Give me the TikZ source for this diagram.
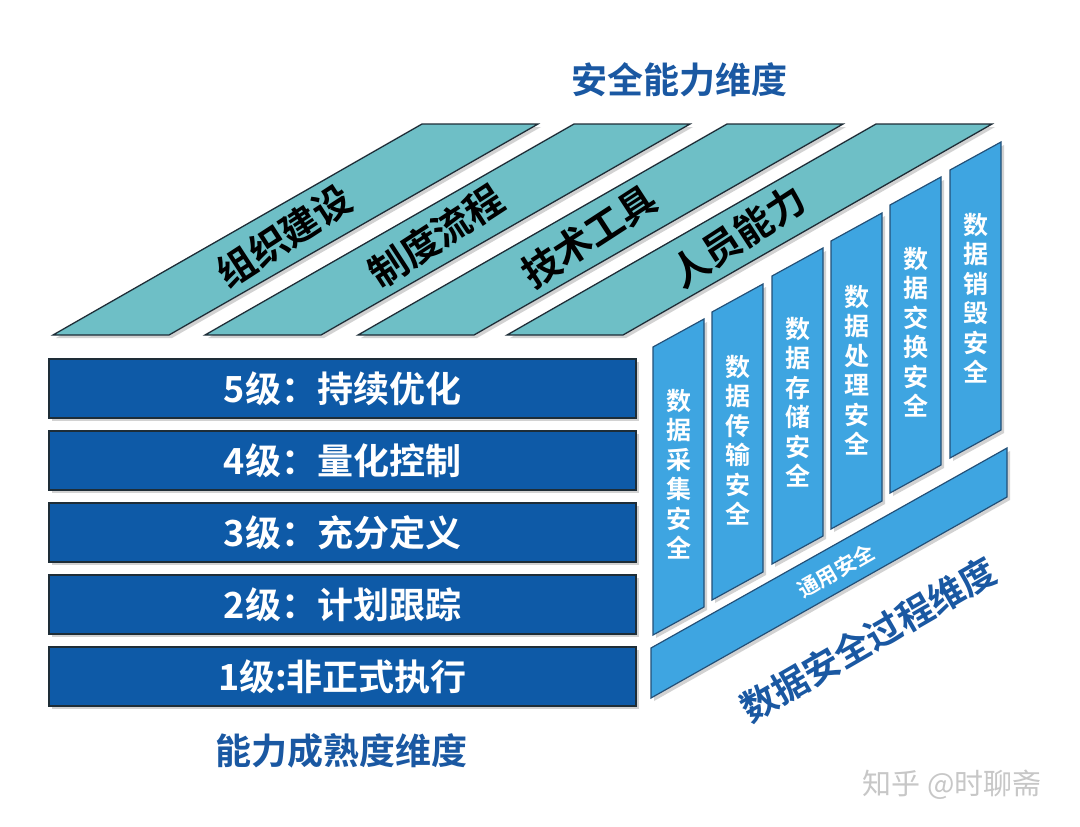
\documentclass[tikz,border=0pt]{standalone}
\usepackage{fontspec}
\setmainfont{Noto Sans CJK SC}[BoldFont={Noto Sans CJK SC Bold}]
\usetikzlibrary{shadows}
\definecolor{topteal}{RGB}{110,191,198}
\definecolor{lvlblue}{RGB}{14,90,167}
\definecolor{colblue}{RGB}{62,165,225}
\definecolor{titleblue}{RGB}{26,88,162}
\definecolor{edgedark}{RGB}{30,45,55}
\definecolor{coledge}{RGB}{35,80,120}
\begin{document}
\begin{tikzpicture}[x=1pt,y=-1pt,
  shad/.style={drop shadow={opacity=0.35,shadow xshift=3pt,shadow yshift=-3pt}},
  strip/.style={fill=topteal,draw=edgedark,line width=1.3pt,line join=miter,shad},
  striptxt/.style={font=\fontsize{38}{38}\selectfont\bfseries,text=black,rotate=33,inner sep=0pt},
  lvl/.style={fill=lvlblue,draw=edgedark,line width=1.3pt,minimum width=587pt,minimum height=59pt,
              inner sep=0pt,text=white,font=\fontsize{36}{36}\selectfont\bfseries,shad},
  colshape/.style={fill=colblue,draw=coledge,line width=1.2pt,shad},
  coltxt/.style={font=\fontsize{25}{29.5}\selectfont\bfseries,text=white,align=center,inner sep=0pt},
  dimtxt/.style={font=\fontsize{36}{36}\selectfont\bfseries,text=titleblue,inner sep=0pt}]
\useasboundingbox (0,0) rectangle (1080,827);
\fill[white] (0,0) rectangle (1080,827);

% title
\node[dimtxt] (ttop) at (679,80) {安全能力维度};

% top face strips
\draw[strip] (53,335) -- (169,335) -- (538,124) -- (422,124) -- cycle;
\draw[strip] (205,335) -- (321,335) -- (690,124) -- (574,124) -- cycle;
\draw[strip] (358,335) -- (474,335) -- (843,124) -- (727,124) -- cycle;
\draw[strip] (507,335) -- (623,335) -- (992,124) -- (876,124) -- cycle;
\node[striptxt] (s1) at (284,236) {组织建设};
\node[striptxt] (s2) at (436,236) {制度流程};
\node[striptxt] (s3) at (589,236) {技术工具};
\node[striptxt] (s4) at (738,236) {人员能力};

% front levels
\node[lvl] (l5) at (342.5,388.5) {5级：持续优化};
\node[lvl] (l4) at (342.5,460.5) {4级：量化控制};
\node[lvl] (l3) at (342.5,532.5) {3级：充分定义};
\node[lvl] (l2) at (342.5,604.5) {2级：计划跟踪};
\node[lvl] (l1) at (342.5,676.5) {1级:非正式执行};
\node[dimtxt] (tleft) at (341,751) {能力成熟度维度};

% side columns
\draw[colshape] (653,347) -- (704,319) -- (704,607) -- (653,635) -- cycle;
\draw[colshape] (712,312) -- (763,284) -- (763,572) -- (712,600) -- cycle;
\draw[colshape] (772,276) -- (823,248) -- (823,536) -- (772,564) -- cycle;
\draw[colshape] (831,241) -- (882,213) -- (882,501) -- (831,529) -- cycle;
\draw[colshape] (890,205) -- (941,177) -- (941,465) -- (890,493) -- cycle;
\draw[colshape] (950,170) -- (1001,142) -- (1001,430) -- (950,458) -- cycle;
\node[coltxt] (c1) at (678.5,474) {数\\据\\采\\集\\安\\全};
\node[coltxt] (c2) at (737.5,440) {数\\据\\传\\输\\安\\全};
\node[coltxt] (c3) at (797.5,402) {数\\据\\存\\储\\安\\全};
\node[coltxt] (c4) at (856.5,370) {数\\据\\处\\理\\安\\全};
\node[coltxt] (c5) at (915.5,332) {数\\据\\交\\换\\安\\全};
\node[coltxt] (c6) at (975.5,298) {数\\据\\销\\毁\\安\\全};

% general security bar
\draw[colshape] (651,648) -- (1007,448) -- (1007,497) -- (651,698) -- cycle;
\node[font=\fontsize{21}{21}\selectfont\bfseries,text=white,rotate=30,inner sep=0pt] (gen) at (836,571) {通用安全};
\node[dimtxt,rotate=30] (tright) at (868,640) {数据安全过程维度};

% watermark
\node[font=\fontsize{29}{29}\selectfont,text=black!22,inner sep=0pt] (wm) at (952,785) {知乎 @时聊斋};
\end{tikzpicture}
\end{document}
